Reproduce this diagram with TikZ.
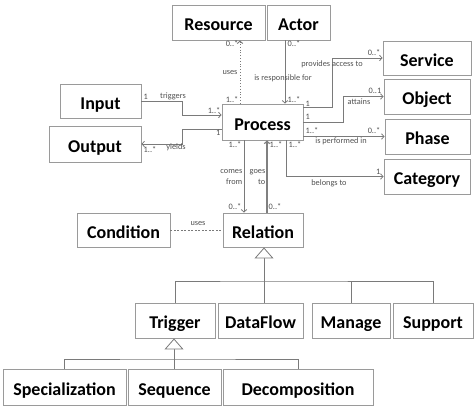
\documentclass[tikz,border=0pt]{standalone}
\usepackage{fontspec}
\setmainfont{Carlito}
\usetikzlibrary{arrows.meta}
\definecolor{boxline}{HTML}{9A9A9A}
\definecolor{conline}{HTML}{7A7A7A}
\definecolor{lbl}{HTML}{505050}
\tikzset{
  box/.style={draw=boxline, line width=0.9pt, fill=white, inner sep=0pt,
    text height=16pt, text depth=0pt,
    font=\fontsize{18}{20}\selectfont\bfseries, text=black},
  conn/.style={draw=conline, line width=0.8pt},
  arr/.style={-{Straight Barb[length=2.5pt,width=5.5pt]}},
  gen/.style={-{Triangle[open,length=11pt,width=19pt,fill=white]}},
  lab/.style={font=\fontsize{8.3}{9}\selectfont, text=lbl, inner sep=0.5pt},
}
\begin{document}
\begin{tikzpicture}[x=1pt,y=-1pt]
\useasboundingbox (0,0) rectangle (474,405);
% boxes
\node[box, minimum width=93pt, minimum height=35pt] (Resource) at (218.5,22.5) {Resource};
\node[box, minimum width=63pt, minimum height=35pt] (Actor) at (298.5,22.5) {Actor};
\node[box, minimum width=88pt, minimum height=34pt] (Service) at (427,58) {Service};
\node[box, minimum width=86pt, minimum height=35pt] (Object) at (427,96.5) {Object};
\node[box, minimum width=85pt, minimum height=35pt] (Phase) at (427.5,136.5) {Phase};
\node[box, minimum width=86pt, minimum height=35pt] (Category) at (427,176.5) {Category};
\node[box, minimum width=81pt, minimum height=34pt] (Input) at (100.5,101) {Input};
\node[box, minimum width=92pt, minimum height=36pt] (Output) at (95,144) {Output};
\node[box, minimum width=81pt, minimum height=36pt] (Process) at (262.5,122) {Process};
\node[box, minimum width=93pt, minimum height=34pt] (Condition) at (123.5,230) {Condition};
\node[box, minimum width=80pt, minimum height=34pt] (Relation) at (263,230) {Relation};
\node[box, minimum width=80pt, minimum height=35pt] (Trigger) at (175,320.5) {Trigger};
\node[box, minimum width=85pt, minimum height=35pt] (DataFlow) at (260.5,320.5) {DataFlow};
\node[box, minimum width=78pt, minimum height=35pt] (Manage) at (351,320.5) {Manage};
\node[box, minimum width=80pt, minimum height=35pt] (Support) at (433,320.5) {Support};
\node[box, minimum width=123pt, minimum height=36pt] (Specialization) at (64.5,387) {Specialization};
\node[box, minimum width=93pt, minimum height=36pt] (Sequence) at (174.5,387) {Sequence};
\node[box, minimum width=150pt, minimum height=36pt] (Decomposition) at (298,387) {Decomposition};
% helper coordinates
\coordinate (xRes) at (240,0);
\coordinate (xAct) at (285,0);
\coordinate (sx) at (332,58);
\coordinate (ox) at (343,96.5);
\coordinate (xCat) at (286,0);
\coordinate (ix) at (182,115);
\coordinate (ox2) at (182,129);
\coordinate (xCome) at (244,0);
\coordinate (xGo) at (267,0);
\coordinate (hR) at (264,281);
\coordinate (hT) at (174,359);
% connectors
\draw[conn, dotted, line width=0.9pt, arr] (Process.north -| xRes) -- (Resource.south -| xRes);
\draw[conn, arr] (Actor.south -| xAct) -- (Process.north -| xAct);
\draw[conn, arr] ([yshift=-4pt]Process.north east) -| (sx) |- (Service.west);
\draw[conn, arr] (Process.east) -| (ox) |- (Object.west);
\draw[conn, arr] (Process.east |- Phase.west) -- (Phase.west);
\draw[conn, arr] (Process.south -| xCat) |- (Category.west);
\draw[conn, arr] (Input.east) -| (ix) |- ([yshift=7pt]Process.west);
\draw[conn, arr] ([yshift=-7pt]Process.west) -| (ox2) |- (Output.east);
\draw[conn, arr] (Process.south -| xCome) -- (Relation.north -| xCome);
\draw[conn, arr, line width=1.1pt, draw=gray] (Relation.north -| xGo) -- (Process.south -| xGo);
\draw[conn, dashed, dash pattern=on 2pt off 1.5pt, line width=0.6pt] (Condition.east) -- (Relation.west);
% generalizations
\draw[conn] (Trigger.north) |- (hR) -| (Support.north);
\draw[conn] (Manage.north) -- (Manage.north |- hR);
\draw[conn] (DataFlow.north -| hR) -- (hR);
\draw[conn, gen] (hR) -- (Relation.south -| hR);
\draw[conn] (Specialization.north) |- (hT) -| (Decomposition.north);
\draw[conn] (Sequence.north -| hT) -- (hT);
\draw[conn, gen] (hT) -- (Trigger.south -| hT);
% labels
\node[lab, anchor=east] (l1) at (239,44) {0..*};
\node[lab] (l2) at (230,73) {uses};
\node[lab, anchor=east] (l3) at (239,100) {1..*};
\node[lab, anchor=west] (l4) at (287,44) {0..*};
\node[lab] (l5) at (283,78) {is responsible for};
\node[lab, anchor=west] (l6) at (287,100) {1..*};
\node[lab, anchor=west] (l7) at (305,104) {1};
\node[lab] (l8) at (332,64) {provides access to};
\node[lab, anchor=east] (l9) at (381,53) {0..*};
\node[lab, anchor=west] (l10) at (305,117) {1};
\node[lab] (l11) at (359,102) {attains};
\node[lab, anchor=east] (l12) at (382,91) {0..1};
\node[lab, anchor=west] (l13) at (305,131) {1..*};
\node[lab, anchor=east] (l14) at (381,131) {0..*};
\node[lab] (l15) at (341,141) {is performed in};
\node[lab, anchor=west] (l16) at (288,145) {1..*};
\node[lab] (l17) at (329,183) {belongs to};
\node[lab, anchor=east] (l18) at (381,172) {1};
\node[lab, anchor=west] (l19) at (143,97) {1};
\node[lab] (l20) at (173,96) {triggers};
\node[lab, anchor=east] (l21) at (221,111) {1..*};
\node[lab, anchor=east] (l22) at (221,133) {1};
\node[lab] (l23) at (176,147) {yields};
\node[lab, anchor=west] (l24) at (143,150) {1..*};
\node[lab, anchor=west] (l25) at (228,145) {1..*};
\node[lab, anchor=east] (l26) at (243,172) {comes};
\node[lab, anchor=east] (l27) at (243,182) {from};
\node[lab, anchor=west] (l28) at (228,207) {0..*};
\node[lab, anchor=west] (l29) at (269,145) {1..*};
\node[lab, anchor=east] (l30) at (266,172) {goes};
\node[lab, anchor=east] (l31) at (266,182) {to};
\node[lab, anchor=west] (l32) at (268,207) {0..*};
\node[lab] (l33) at (198,224) {uses};
\end{tikzpicture}
\end{document}
